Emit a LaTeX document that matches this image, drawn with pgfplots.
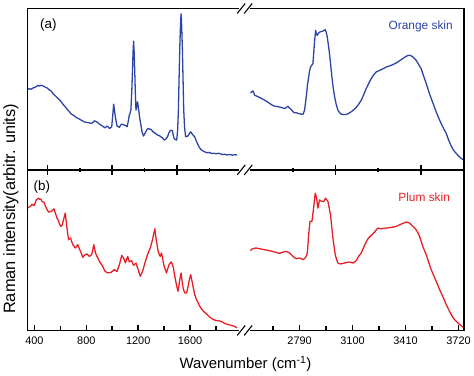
\documentclass[border=0pt]{standalone}
\usepackage{pgfplots}
\pgfplotsset{compat=1.18}
\usepackage{fontspec}
\setmainfont{Liberation Sans}
\definecolor{oblue}{RGB}{44,68,165}
\definecolor{pred}{RGB}{232,30,38}
\pgfplotsset{
  base/.style={scale only axis, anchor=south west,
    axis line style={draw=none},
    tick style={black, line width=1.5pt},
    /pgf/number format/assume math mode=true,
    /pgf/number format/1000 sep={},
    ticklabel style={font=\fontsize{11}{13}\selectfont},
    yticklabels={}, ytick=\empty,
    minor tick length=4bp,
    xtick pos=left, ytick pos=left},
  leftax/.style={base, width=212bp, xmin=346, xmax=1975},
  rightax/.style={base, width=215bp, xmin=2498, xmax=3752},
  pa/.style={height=162bp, ymin=0, ymax=162,
    xtick align=center, ytick align=inside, major tick length=10bp, xticklabels={}},
  pb/.style={height=161bp, ymin=0, ymax=161,
    tick align=inside, major tick length=5.5bp,
    xticklabel style={yshift=-3bp}},
  trA/.style={oblue, line width=1.3pt, line join=round},
  trB/.style={pred, line width=1.3pt, line join=round},
}
\begin{document}
\begin{tikzpicture}
\path (0,0) rectangle (474bp,375bp);
% ---------- panel (a) left
\begin{axis}[leftax, pa, at={(26.5bp,204.5bp)}, name=aL, minor ytick={3.3,39.5,75.8,112,148.3},
  xtick={500,1000,1500}, minor xtick={750,1250,1750}]
\addplot[trA] coordinates {
(346,80.7)(360,81.5)(375,81)(390,82.3)(402.5,82.7)(415,83.8)(428,84.7)(440,84.2)(453.7,85)(470,84)(492,82.7)
(505,81.5)(517.6,80)(530,79)(543,76.7)(560,74.5)(581.6,71.7)(600,69.5)(620,66)(640,63)(658,60)(670,58.5)(684,56)
(700,55)(722,52.7)(740,51.5)(760.6,50)(780,48.5)(799,47.7)(815,47.5)(837,46.7)(850,47.5)(863,49.3)(875,48.5)(888.5,47.7)
(900,46)(914,45)(930,43.5)(945,42.3)(960,44)(970,43)(978,41.7)(990,42.5)(996,43.3)(1004,55)(1011,66)(1017,60)(1024,53.3)(1037,44)
(1046,43.5)(1055,42.7)(1065,45)(1073,46)(1083,45.5)(1093,45)(1104,44.5)(1114,43.3)(1124,49)(1131.5,55)(1138,57)(1144,60.7)(1151,80)(1157,103.3)(1161,120)(1165,129.3)
(1169,118)(1172.5,103.3)(1178,78)(1183,60)(1189,64)(1195.5,68.3)(1200,64)(1206,58.3)(1213,51)(1221,45)(1230,38)(1241,34)(1250,36)(1259,38.3)(1268,40.5)(1277,41.7)
(1287,41)(1298,40.7)(1310,39)(1323,37.3)(1336,36.5)(1349,35)(1362,34.5)(1374,33.3)(1388,32)(1400,30)(1413,31)(1426,33.3)(1436,37)(1446,39.3)
(1455,40)(1464,39.3)(1470,35)(1477,31.7)(1487,30.5)(1497,30)(1504,40)(1510,60)(1515,90)(1520,120)(1526,145)(1530.6,156.7)(1535,145)(1541,120)(1546,90)(1551,60)
(1558,42)(1566,33.3)(1575,33.8)(1584,34)(1595,36.5)(1605,38.3)(1611,37)(1617.6,36)(1626,34.5)(1635.5,33.3)(1645,30)(1656,26.7)(1668,23.5)(1682,20.7)(1700,19)
(1715,18)(1732.7,17.3)(1750,17.5)(1767,16.5)(1784,16.7)(1800,16.2)(1818,16.8)(1835,16)(1850,15.5)(1868,15.8)(1886,15)(1905,15.6)(1925,14.8)(1945,15.3)(1963,15)
};
\end{axis}
% ---------- panel (a) right
\begin{axis}[rightax, pa, at={(249.5bp,204.5bp)}, name=aR,
  xtick={3000,3500}, minor xtick={2750,3250}]
\addplot[trA] coordinates {
(2502,77.3)(2517,79.3)(2527,75)(2540,74)(2556,72.7)(2570,71.5)(2585,70)(2600,68.5)(2615,66.7)(2630,65)(2644,64)(2663,63.5)(2683,62.7)(2702,61.7)
(2712,62.5)(2722,64)(2731,62)(2741,60.7)(2751,58.5)(2761,57.3)(2770,57.5)(2780,56.7)(2795,56.2)(2810,55.7)(2819,60)(2829,73.3)(2836,85)(2843,93.3)(2848,99)(2854,103.3)
(2861,105)(2868,106.7)(2873,118)(2878,130)(2884,140)(2888,137)(2893,135)(2900,137)(2907,138.3)(2916,138.8)(2926.5,139.3)(2933,140)(2940,140.7)(2946,138)(2952,133.3)
(2958,126)(2965,116.7)(2972,105)(2979,93.3)(2987,82)(2995,73.3)(3004,66)(3014,60)(3024,57.5)(3034,56)(3048,55.5)(3063,55.7)(3078,56.8)(3092,58.3)(3106,60.3)
(3121,62.7)(3136,66)(3151,70)(3165,75.5)(3180,81.7)(3195,87)(3209,91.7)(3224,95.5)(3238,98.3)(3253,99.5)(3268,100.7)(3282,101.8)(3297,103.3)(3311,104)
(3326,105)(3340,106)(3355,107.3)(3370,109)(3384.5,110.7)(3400,112.5)(3414,114)(3423,114.8)(3433,115)(3443,114.5)(3453,113.3)(3462,111.8)(3472,110)(3486,106)
(3501,101.7)(3516,94)(3531,86.7)(3545,79)(3560,71.7)(3575,65)(3589,58.3)(3603,52.5)(3618,46.7)(3633,41.5)(3648,36.7)(3662,30)(3677,24)(3692,19.5)(3706,16.7)(3720,14)(3735,11.7)(3750,10)
};
\end{axis}
% ---------- panel (b) left
\begin{axis}[leftax, pb, at={(26.5bp,43.5bp)}, name=bL, minor ytick={3,33,62,92,122.7},
  xtick={400,800,1200,1600}, minor xtick={600,1000,1400,1800}]
\addplot[trB] coordinates {
(346,122.7)(355,123.5)(364,124.3)(373,125)(382,126.7)(390,125.8)(397.4,125.3)(406,128)(415,131)(424,132)(433,132.7)(440,131.5)(448.5,132)(454,130.5)(459,129.3)
(466,129)(474,128.7)(483,125.5)(492,122.7)(501,120.5)(510,118.7)(520,119)(530,119.3)(540,120.5)(551,122)(557,119.5)(564,116.7)(572,113.5)(581.6,111)(592,107.5)
(602,104.3)(609,105)(615,106)(621,109.5)(628,112.7)(633,115.5)(638,117.7)(643,112)(648,106)(656,98)(663.4,91)(671,92)(679,92.7)(688,89)(696.7,86)(705,84.5)
(714.6,82.7)(725,84.5)(735,86)(745,82.5)(755.5,79.3)(764,76.5)(773,73.3)(782,74.8)(791,76)(799,76.3)(806.7,76.7)(815,75.5)(824.6,74.3)(833,75.2)(842,76)
(850,81)(858,86)(864,82)(870.6,77.7)(880,75)(888.5,72.7)(898,70)(909,67.7)(918,66)(927,64.3)(936,61.5)(945,59.3)(955,58.5)(965,57.7)(978,58)(991,58.3)
(1003,59.5)(1016,61)(1026,60)(1037,59.3)(1046,62.5)(1055,66)(1064,70.5)(1073,75.3)(1080,74)(1088,72.7)(1095,70)(1101,67.7)(1110,71)(1119,74.3)(1125,71.5)
(1131.5,68.7)(1140,69.5)(1149.5,70)(1157,67.5)(1165,65.3)(1174,66.5)(1183,67.7)(1189,65)(1195.5,62.7)(1206,58.5)(1216,54.3)(1225,57)(1234,59.3)(1243,63.5)
(1252,67.7)(1262,72)(1272,76)(1282,79.5)(1293,82.7)(1302,87)(1310.6,91)(1320,97)(1328.5,102)(1335,95)(1341,89.3)(1348,84)(1354,79.3)(1362,76.5)(1369.5,74.3)
(1375,76)(1380,77.7)(1390,71)(1400,64.3)(1409,61)(1418,57.7)(1428,62)(1438.5,66)(1447,67.5)(1456,68.7)(1464,66)(1471.7,62.7)(1480,56)(1489.6,49.3)(1498,44)
(1507.6,39.3)(1515,46)(1523,52.7)(1530.6,57.7)(1538,50)(1546,42.7)(1552,40)(1558.7,37.7)(1566,37.5)(1574,37.7)(1583,43)(1592,49.3)(1598,53)(1605,56)(1611,52)
(1617.6,47.7)(1626,42)(1635.5,36)(1645,32.5)(1656,29.3)(1668,26)(1682,22.7)(1695,20.5)(1707,18.7)(1720,17.2)(1733,16)(1745,14)(1758,12.7)(1777,11.2)(1797,10)
(1815,9.8)(1835,9.3)(1853,8)(1873.4,6.7)(1892,6)(1912,5.3)(1925,4.8)(1937.3,4.3)(1950,3.5)(1963,2.7)
};
\end{axis}
% ---------- panel (b) right
\begin{axis}[rightax, pb, at={(249.5bp,43.5bp)}, name=bR,
  xtick={2790,3100,3410,3720}, minor xtick={2635,2945,3255,3565}]
\addplot[trB] coordinates {
(2502,80)(2510,81.5)(2517,82)(2527,82.5)(2537,82.7)(2546,82.3)(2556,82)(2570,81.5)(2585,81)(2600,80.5)(2615,80)(2630,79.3)(2644,78.7)(2658,78)(2673,77.3)
(2683,78)(2693,78.7)(2702,79)(2712,79.3)(2722,78.5)(2732,77.7)(2741,76)(2751,74.3)(2760,73)(2770.6,72)(2780,72.3)(2790,72.7)(2800,72)(2809.5,71)(2818,72)
(2825,73.3)(2830,75)(2835,77.7)(2839,86)(2843,96)(2847,103)(2850.5,109.3)(2856,109.5)(2862,109.3)(2867,116)(2872,122.7)(2877,131)(2881.7,137.7)(2886,135)
(2889.5,132.7)(2893,128)(2897,122.7)(2902,127)(2907,131)(2914,130)(2920.6,129.3)(2926,129.5)(2932,129.3)(2937,131)(2942,132.7)(2949,131)(2956,129.3)(2963,123)
(2971,116)(2978,104)(2985,92.7)(2992,84)(2998.6,76)(3006,71.5)(3014,67.7)(3022,67)(3030,66.7)(3042,67.2)(3053,67.7)(3068,68.3)(3082,68.7)(3092,68.2)(3102,67.7)
(3112,68.8)(3121,70)(3128,72)(3135,74.3)(3143,76)(3150.6,77.7)(3160,81.5)(3170,85.3)(3180,88.8)(3190,92)(3200,93.8)(3209,95.3)(3219,97)(3228.6,98.7)(3238,100.8)
(3248,102.7)(3258,102.2)(3267.6,102)(3282,102.4)(3297,102.7)(3311,103)(3326,103.3)(3340,103.8)(3355,104.3)(3370,105.5)(3384.5,106.7)(3400,107.8)(3414,108.7)
(3424,108.3)(3433,107.7)(3443,106)(3453,104.3)(3462,102.8)(3472,101)(3482,98)(3492,94.3)(3501,89.5)(3511,84.3)(3521,80)(3531,76)(3545,68.5)(3560,61)
(3575,55)(3589,49.3)(3603,43.5)(3618,37.7)(3633,32)(3648,26)(3662,21)(3677,16)(3686,13.5)(3696,11)(3706,9.3)(3716,7.7)(3730,5.5)(3745,3.3)
};
\end{axis}
% frames as thin filled bars
\fill[black] (25.8bp,365.8bp) rectangle (238.5bp,367.2bp);
\fill[black] (25.8bp,203.8bp) rectangle (27.2bp,367.2bp);
\fill[black] (25.8bp,203.8bp) rectangle (238.5bp,205.2bp);
\fill[black] (249.5bp,365.8bp) rectangle (465.2bp,367.2bp);
\fill[black] (463.8bp,203.8bp) rectangle (465.2bp,367.2bp);
\fill[black] (249.5bp,203.8bp) rectangle (465.2bp,205.2bp);
\fill[black] (25.8bp,42.8bp) rectangle (238.5bp,44.2bp);
\fill[black] (25.8bp,42.8bp) rectangle (27.2bp,205.2bp);
\fill[black] (249.5bp,42.8bp) rectangle (465.2bp,44.2bp);
\fill[black] (463.8bp,42.8bp) rectangle (465.2bp,205.2bp);
% break marks
\foreach \yy in {366.5,204.5,43.5}{
  \draw[line width=1.1pt] (237bp,\yy bp-5bp) -- (245bp,\yy bp+5bp);
  \draw[line width=1.1pt] (244bp,\yy bp-5bp) -- (252bp,\yy bp+5bp);
}
% texts
\node[font=\fontsize{13.5}{15}\selectfont] at (47.5bp,350bp) {(a)};
\node[font=\fontsize{13.5}{15}\selectfont] at (41bp,187.5bp) {(b)};
\node[font=\fontsize{12}{14}\selectfont, text=oblue] at (421bp,348.5bp) {Orange skin};
\node[font=\fontsize{12}{14}\selectfont, text=pred] at (424.5bp,177.5bp) {Plum skin};
\node[font=\fontsize{15}{17}\selectfont, anchor=base] at (245.3bp,5bp) {Wavenumber (cm\textsuperscript{-1})};
\node[font=\fontsize{16.5}{18}\selectfont, rotate=90] at (10bp,165.5bp) {Raman intensity(arbitr. units)};
\end{tikzpicture}
\end{document}
